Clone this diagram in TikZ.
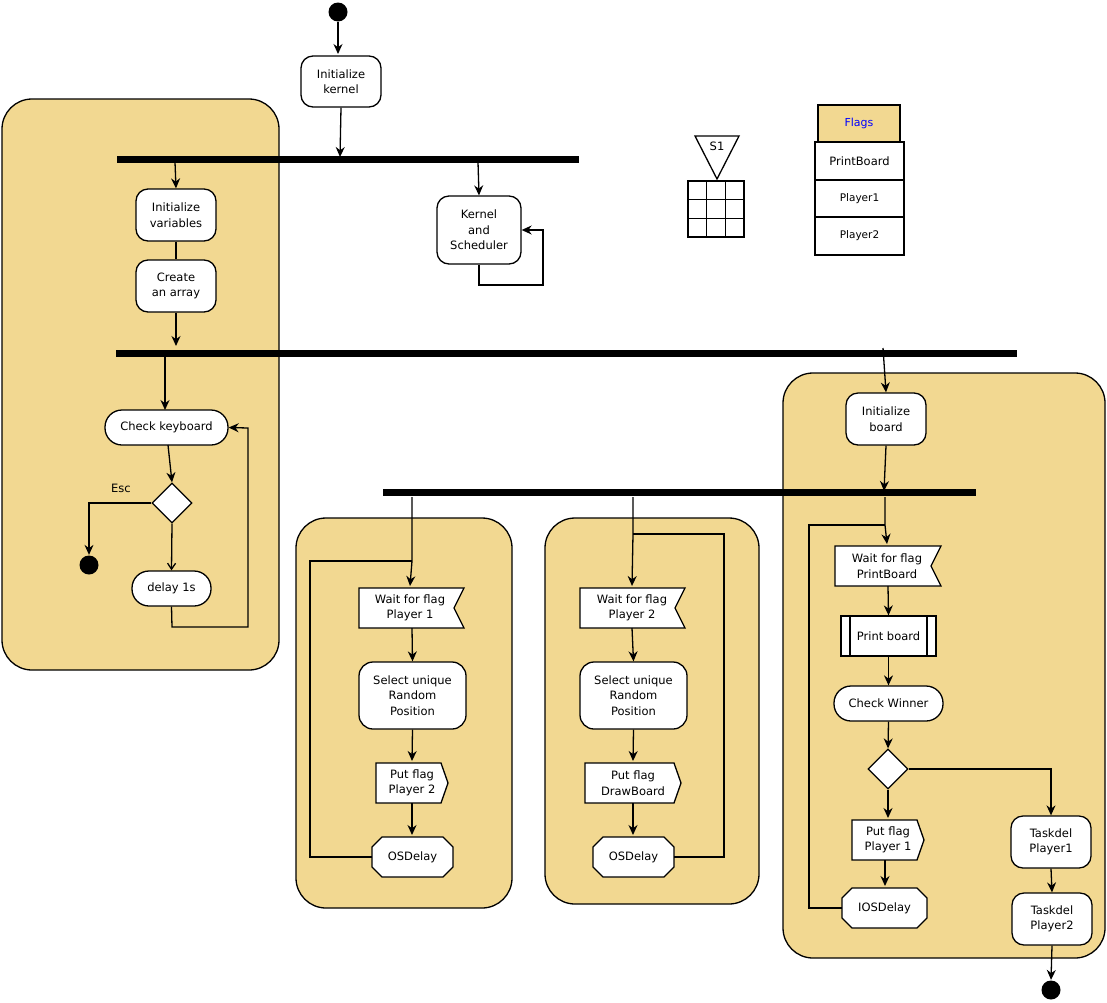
\documentclass[tikz,border=0pt]{standalone}
\usepackage{fontspec}
\setmainfont{DejaVu Sans}
\usetikzlibrary{arrows.meta,shapes.geometric}
\definecolor{tan}{HTML}{F2D891}
\begin{document}
\begin{tikzpicture}[x=1pt,y=-1pt,font=\fontsize{11.5}{15.5}\selectfont,
  line width=1.3pt,
  arr/.style={-{Stealth[length=10pt,width=9pt]}},
  panel/.style={draw,fill=tan,rounded corners=30pt},
  rb/.style={draw,fill=white,rounded corners=12pt,align=center,inner sep=0pt},
  pl/.style={draw=none,align=center,inner sep=0pt},
  bar/.style={line width=7pt},
  dot/.style={circle,fill=black,minimum size=19pt,inner sep=0pt},
  dia/.style={diamond,draw,fill=white,minimum size=40pt,inner sep=0pt}]
\useasboundingbox (0,0) rectangle (1107,1002);
% panels
\draw[panel] (2,99) rectangle (279,670);
\draw[panel] (783,373) rectangle (1105,958);
\draw[panel] (296,518) rectangle (512,908);
\draw[panel] (545,518) rectangle (759,904);
% top
\node[dot] (st) at (338,12) {};
\node[rb,minimum width=80pt,minimum height=51pt] (ik) at (341,81.5) {Initialize\\kernel};
\draw[bar] (117,159) -- (579,159);
\coordinate (b1a) at (340,157);
\draw[arr] (ik.south) -- (b1a);
\draw[arr] (st) -- (338,54);
% left
\coordinate (b1l) at (175,162);
\node[rb,minimum width=80pt,minimum height=52pt] (iv) at (176,215) {Initialize\\variables};
\node[rb,minimum width=80pt,minimum height=52pt] (ca) at (176,286) {Create\\an array};
\draw[arr] (b1l) -- (iv.north);
\draw (iv) -- (ca);
\draw[bar] (116,353) -- (1017,353);
\coordinate (b2a) at (176,346);
\draw[arr] (ca.south) -- (b2a);
\coordinate (b2b) at (165,356);
\node[rb,minimum width=123pt,minimum height=35pt,rounded corners=17pt] (ck) at (166.5,427.5) {Check keyboard};
\draw[arr] (b2b) -- (165,410);
\node[dia] (d1) at (172,503) {};
\draw[arr] (168,445) -- (d1.north);
\node[pl] at (121,488) {Esc};
\node[dot] (e1) at (89,565) {};
\draw[arr] (d1.west) -- (89,503) -- (e1.north);
\node[rb,minimum width=79pt,minimum height=35pt,rounded corners=17pt] (dl) at (171.5,588.5) {delay 1s};
\draw[-{Straight Barb[length=6pt,width=8pt]}] (d1.south) -- (dl.north);
\draw[arr] (dl.south) -- (172,627) -- (248,627) -- (248,428) -- (ck.east);
% kernel
\node[rb,minimum width=84pt,minimum height=68pt] (ks) at (479,230) {Kernel\\and\\Scheduler};
\coordinate (b1b) at (478,162);
\draw[arr] (b1b) -- (ks.north);
\draw[arr] (ks.south) -- (479,285) -- (543,285) -- (543,230) -- (ks.east);
% S1
\draw (695,136) -- (739,136) -- (717,179) -- cycle;
\node[pl] (s1) at (717,146) {S1};
\draw (688,181) rectangle (744,237);
\draw (706.67,181) -- (706.67,237) (725.33,181) -- (725.33,237) (688,199.67) -- (744,199.67) (688,218.33) -- (744,218.33);
% flags
\node[draw,fill=tan,minimum width=82pt,minimum height=37pt,text=blue,font=\fontsize{11}{13}\selectfont] (fl) at (859,123.5) {Flags};
\node[draw,minimum width=89pt,minimum height=38pt] (f1) at (859.5,161) {PrintBoard};
\node[draw,minimum width=89pt,minimum height=37pt,font=\fontsize{10.5}{13}\selectfont] (f2) at (859.5,198.5) {Player1};
\node[draw,minimum width=89pt,minimum height=38pt,font=\fontsize{10.5}{13}\selectfont] (f3) at (859.5,236) {Player2};
% right top
\coordinate (b2c) at (883,348);
\node[rb,minimum width=80pt,minimum height=52pt] (ib) at (886,419) {Initialize\\board};
\draw[arr] (b2c) -- (ib.north);
\draw[bar] (383,492) -- (976,492);
\coordinate (b3a) at (884,491);
\draw[arr] (ib.south) -- (b3a);
% panel1
\coordinate (b3b) at (412,497);
\draw[fill=white] (359,588) -- (464,588) -- (454,608) -- (464,628) -- (359,628) -- cycle;
\node[pl] (w1) at (410,608) {Wait for flag\\Player 1};
\draw[arr] (b3b) -- (412,561) -- (410,586);
\node[rb,minimum width=107pt,minimum height=67pt,rounded corners=14pt] (s1b) at (412.5,695.5) {Select unique\\Random\\Position};
\draw[arr] (412,628) -- (s1b.north);
\draw[fill=white] (376,763) -- (441,763) -- (448,783) -- (441,803) -- (376,803) -- cycle;
\node[pl] (p1) at (412,783) {Put flag\\Player 2};
\draw[arr] (s1b.south) -- (412,761);
\draw[fill=white] (382,837) -- (443,837) -- (453,847) -- (453,867) -- (443,877) -- (382,877) -- (372,867) -- (372,847) -- cycle;
\node[pl] (o1) at (412.5,857) {OSDelay};
\draw[arr] (412,803) -- (412,835);
\draw (372,857) -- (310,857) -- (310,561) -- (412,561);
% panel2
\coordinate (b3c) at (633,497);
\draw[fill=white] (580,588) -- (685,588) -- (675,608) -- (685,628) -- (580,628) -- cycle;
\node[pl] (w2) at (632,608) {Wait for flag\\Player 2};
\draw[arr] (b3c) -- (633,534) -- (632,586);
\node[rb,minimum width=107pt,minimum height=67pt,rounded corners=14pt] (s2b) at (633.5,695.5) {Select unique\\Random\\Position};
\draw[arr] (632,628) -- (s2b.north);
\draw[fill=white] (585,763) -- (674,763) -- (681,783) -- (674,803) -- (585,803) -- cycle;
\node[pl] (p2) at (633,783) {Put flag\\DrawBoard};
\draw[arr] (s2b.south) -- (633,761);
\draw[fill=white] (603,837) -- (664,837) -- (674,847) -- (674,867) -- (664,877) -- (603,877) -- (593,867) -- (593,847) -- cycle;
\node[pl] (o2) at (633.5,857) {OSDelay};
\draw[arr] (633,803) -- (633,835);
\draw (674,857) -- (724,857) -- (724,534) -- (633,534);
% right panel
\coordinate (b3d) at (885,497);
\draw[fill=white] (835,546) -- (941,546) -- (931,566) -- (941,586) -- (835,586) -- cycle;
\node[pl] (w3) at (887,566) {Wait for flag\\PrintBoard};
\draw[arr] (b3d) -- (885,525) -- (887,544);
\node[draw,fill=white,minimum width=95pt,minimum height=40pt] (pb) at (888.5,636) {Print board};
\draw (850,616) -- (850,656) (927,616) -- (927,656);
\draw[arr] (888,586) -- (pb.north);
\node[rb,minimum width=109pt,minimum height=35pt,rounded corners=17pt] (cw) at (888.5,703.5) {Check Winner};
\draw[arr] (pb.south) -- (cw.north);
\node[dia] (d2) at (888,769) {};
\draw[arr] (cw.south) -- (d2.north);
\draw[fill=white] (852,820) -- (917,820) -- (924,840) -- (917,860) -- (852,860) -- cycle;
\node[pl] (p3) at (888,840) {Put flag\\Player 1};
\draw[arr] (d2.south) -- (888,818);
\draw[fill=white] (852,888) -- (917,888) -- (927,898) -- (927,918) -- (917,928) -- (852,928) -- (842,918) -- (842,898) -- cycle;
\node[pl] (io) at (884.5,908) {IOSDelay};
\draw[arr] (885,860) -- (885,886);
\draw (842,908) -- (809,908) -- (809,525) -- (885,525);
\node[rb,minimum width=80pt,minimum height=52pt] (t1) at (1051,842) {Taskdel\\Player1};
\node[rb,minimum width=80pt,minimum height=52pt] (t2) at (1052,919) {Taskdel\\Player2};
\draw[arr] (d2.east) -- (1051,769) -- (t1.north);
\draw[arr] (t1.south) -- (t2.north);
\node[dot] (e2) at (1051,990) {};
\draw[arr] (t2.south) -- (e2.north);
\end{tikzpicture}
\end{document}
